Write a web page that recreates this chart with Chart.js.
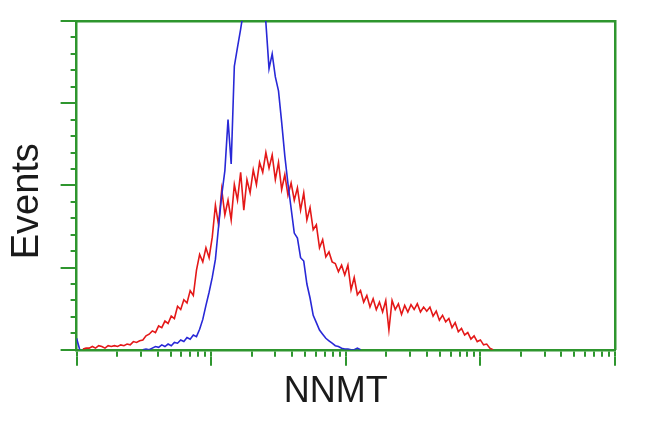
<!DOCTYPE html>
<html>
<head>
<meta charset="utf-8">
<script src="https://cdn.jsdelivr.net/npm/chart.js@4"></script>
<style>
  html, body { margin: 0; padding: 0; background: #fff; }
  #wrap { width: 650px; height: 432px; position: relative; }
</style>
</head>
<body>
<div id="wrap"><canvas id="histChart"></canvas></div>
<script>
// channel numbers (1024 channels = 4 log decades)
const channels = [
  0, 6, 12, 18, 24, 30, 36, 42, 48, 54, 60, 66, 72, 78, 84, 90, 96, 102, 108, 114,
  120, 126, 132, 138, 144, 150, 156, 162, 168, 174, 180, 186, 192, 198, 204, 210, 216, 222, 228, 234,
  240, 246, 252, 258, 264, 270, 276, 282, 288, 294, 300, 306, 312, 318, 324, 330, 336, 342, 348, 354,
  360, 366, 372, 378, 384, 390, 396, 402, 408, 414, 420, 426, 432, 438, 444, 450, 456, 462, 468, 474,
  480, 486, 492, 498, 504, 510, 516, 522, 528, 534, 540, 546, 552, 558, 564, 570, 576, 582, 588, 594,
  600, 606, 612, 618, 624, 630, 636, 642, 648, 654, 660, 666, 672, 678, 684, 690, 696, 702, 708, 714,
  720, 726, 732, 738, 744, 750, 756, 762, 768, 774, 780, 786, 792
];

// control (blue)
const controlEvents = [
  14, 0, null, null, null, null, null, null, null, null, null, null, null, null, null, null, null, null, null, null,
  null, 0, 1, 0, 2, 4, 3, 6, 4, 7, 5, 9, 8, 12, 10, 15, 13, 18, 16, 25,
  37, 54, 70, 88, 110, 150, 188, 218, 280, 226, 345, 368, 390, 415, 450, 470, 482, 474, 462, 440,
  398, 342, 360, 332, 315, 277, 236, 202, 172, 142, 136, 112, 108, 80, 63, 42, 33, 24, 19, 14,
  11, 8, 5, 4, 2, 1, 1, 0, 0, 2, 0, null, null, null, null, null, null, null, null, null,
  null, null, null, null, null, null, null, null, null, null, null, null, null, null, null, null, null, null, null, null,
  null, null, null, null, null, null, null, null, null, null, null, null, null
];

// NNMT (red)
const nnmtEvents = [
  null, null, 1, 2, 2, 4, 2, 5, 4, 2, 5, 4, 5, 4, 6, 5, 7, 6, 10, 9,
  11, 12, 17, 19, 23, 21, 29, 27, 35, 32, 41, 38, 53, 49, 61, 57, 72, 66, 97, 116,
  107, 124, 112, 137, 176, 152, 195, 164, 182, 158, 201, 182, 216, 170, 207, 191, 219, 201, 228, 216,
  240, 221, 237, 207, 228, 195, 213, 188, 203, 182, 197, 170, 191, 158, 173, 146, 152, 124, 134, 113,
  119, 107, 105, 95, 103, 91, 103, 73, 88, 67, 72, 58, 66, 52, 62, 49, 58, 46, 60, 24,
  60, 49, 56, 43, 54, 46, 55, 49, 56, 46, 52, 47, 52, 41, 47, 36, 42, 34, 38, 27,
  33, 22, 26, 18, 21, 13, 17, 10, 12, 6, 7, 2, 0
];

const GREEN = 'rgb(46,150,46)';
const DECADE = 256;

// log decade tick positions in channel units
const minorTicks = [];
for (let d = 0; d < 4; d++) {
  for (let k = 1; k <= 9; k++) minorTicks.push(DECADE * (d + Math.log10(k)));
}
minorTicks.push(DECADE * 4);
const majorTicks = [0, 256, 512, 768, 1024];

const ctx = document.getElementById('histChart').getContext('2d');
const histChart = new Chart(ctx, {
  type: 'line',
  data: {
    labels: channels,
    datasets: [
      {
        label: 'Control',
        data: controlEvents,
        borderColor: 'rgb(40,40,215)',
        borderWidth: 1.6,
        pointRadius: 0,
        tension: 0,
        fill: false
      },
      {
        label: 'NNMT',
        data: nnmtEvents,
        borderColor: 'rgb(228,24,24)',
        borderWidth: 1.6,
        pointRadius: 0,
        tension: 0,
        fill: false
      }
    ]
  },
  options: {
    responsive: true,
    maintainAspectRatio: false,
    animation: false,
    layout: { padding: { top: 21, right: 35, bottom: 0, left: 0 } },
    plugins: { legend: { display: false }, tooltip: { enabled: false } },
    scales: {
      x: {
        type: 'linear', position: 'bottom', weight: 0, min: 0, max: 1024,
        afterBuildTicks: s => { s.ticks = minorTicks.map(v => ({ value: v })); },
        ticks: { display: false },
        grid: { drawOnChartArea: false, color: GREEN, lineWidth: 2, tickLength: 7 },
        border: { color: GREEN, width: 2.5 }
      },
      xMajor: {
        type: 'linear', position: 'bottom', weight: 1, min: 0, max: 1024, display: true,
        afterBuildTicks: s => { s.ticks = majorTicks.map(v => ({ value: v })); },
        ticks: { display: false },
        grid: { drawOnChartArea: false, color: GREEN, lineWidth: 2, tickLength: 9 },
        border: { display: false },
        // trailing spaces nudge the centred title left like the original
        title: { display: true, text: 'NNMT  ', color: '#1a1a1a',
                 font: { family: 'Liberation Sans, Arial, sans-serif', size: 36 },
                 padding: { top: 5, bottom: 18 } }
      },
      xTop: {
        type: 'linear', position: 'top', display: true,
        ticks: { display: false },
        grid: { display: false, drawTicks: false },
        border: { color: GREEN, width: 2.5 }
      },
      y: {
        type: 'linear', position: 'left', weight: 0, min: 0, max: 400,
        ticks: { display: false, stepSize: 20 },
        grid: { drawOnChartArea: false, color: GREEN, lineWidth: 2, tickLength: 6 },
        border: { color: GREEN, width: 2.5 }
      },
      yMajor: {
        type: 'linear', position: 'left', weight: 1, min: 0, max: 400, display: true,
        ticks: { display: false, stepSize: 100 },
        grid: { drawOnChartArea: false, color: GREEN, lineWidth: 2, tickLength: 10 },
        border: { display: false },
        title: { display: true, text: 'Events   ', color: '#1a1a1a',
                 font: { family: 'Liberation Sans, Arial, sans-serif', size: 38 },
                 padding: { top: 5, bottom: 10 } }
      },
      yRight: {
        type: 'linear', position: 'right', display: true,
        ticks: { display: false },
        grid: { display: false, drawTicks: false },
        border: { color: GREEN, width: 2.5 }
      }
    }
  }
});
</script>
</body>
</html>
